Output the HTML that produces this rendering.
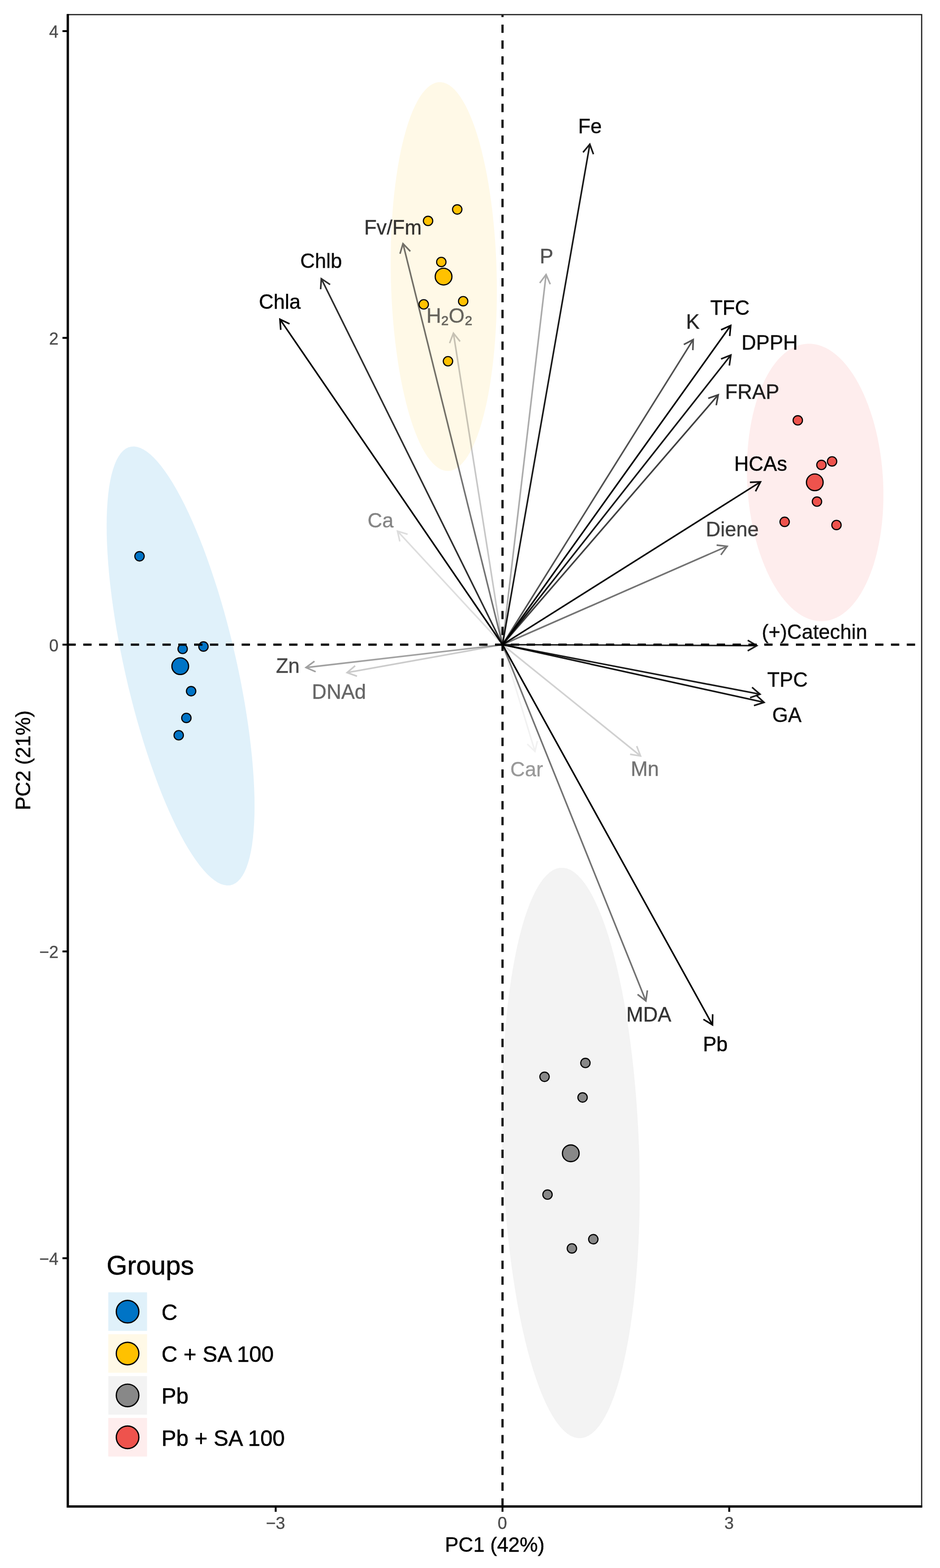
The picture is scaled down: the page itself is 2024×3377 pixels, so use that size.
<!DOCTYPE html>
<html lang="en"><head><meta charset="utf-8"><title>PCA biplot</title>
<style>html,body{margin:0;padding:0;background:#fff}svg{display:block}text{font-family:"Liberation Sans", Arial, Helvetica, sans-serif}</style></head><body>
<svg width="2024" height="3377" viewBox="0 0 2024 3377">
<rect width="2024" height="3377" fill="#fff"/>
<g id="ellipses">
<path d="M548.1,1735.9 L547.9,1754.6 L547.2,1772.3 L546.1,1789.2 L544.6,1805.0 L542.7,1819.9 L540.3,1833.7 L537.5,1846.4 L534.3,1857.9 L530.7,1868.4 L526.8,1877.6 L522.4,1885.6 L517.7,1892.3 L512.6,1897.8 L507.2,1902.1 L501.5,1905.0 L495.4,1906.7 L489.1,1907.1 L482.5,1906.1 L475.6,1903.9 L468.5,1900.4 L461.1,1895.6 L453.6,1889.6 L445.9,1882.3 L438.1,1873.8 L430.1,1864.0 L422.0,1853.1 L413.8,1841.1 L405.5,1827.9 L397.2,1813.7 L388.9,1798.4 L380.5,1782.1 L372.2,1764.8 L363.9,1746.7 L355.7,1727.7 L347.6,1707.9 L339.6,1687.3 L331.8,1666.1 L324.1,1644.2 L316.6,1621.7 L309.2,1598.8 L302.1,1575.3 L295.2,1551.5 L288.6,1527.4 L282.3,1503.0 L276.2,1478.4 L270.5,1453.7 L265.1,1429.0 L260.0,1404.3 L255.3,1379.6 L250.9,1355.1 L247.0,1330.8 L243.4,1306.8 L240.2,1283.2 L237.4,1259.9 L235.0,1237.2 L233.1,1214.9 L231.6,1193.3 L230.5,1172.4 L229.8,1152.1 L229.6,1132.7 L229.8,1114.0 L230.5,1096.3 L231.6,1079.4 L233.1,1063.6 L235.0,1048.7 L237.4,1034.9 L240.2,1022.2 L243.4,1010.7 L247.0,1000.2 L250.9,991.0 L255.3,983.0 L260.0,976.3 L265.1,970.8 L270.5,966.5 L276.2,963.6 L282.3,961.9 L288.6,961.5 L295.2,962.5 L302.1,964.7 L309.2,968.2 L316.6,973.0 L324.1,979.0 L331.8,986.3 L339.6,994.8 L347.6,1004.6 L355.7,1015.5 L363.9,1027.5 L372.2,1040.7 L380.5,1054.9 L388.8,1070.2 L397.2,1086.5 L405.5,1103.8 L413.8,1121.9 L422.0,1140.9 L430.1,1160.7 L438.1,1181.3 L445.9,1202.5 L453.6,1224.4 L461.1,1246.9 L468.5,1269.8 L475.6,1293.3 L482.5,1317.1 L489.1,1341.2 L495.4,1365.6 L501.5,1390.2 L507.2,1414.9 L512.6,1439.6 L517.7,1464.3 L522.4,1489.0 L526.8,1513.5 L530.7,1537.8 L534.3,1561.8 L537.5,1585.4 L540.3,1608.7 L542.7,1631.4 L544.6,1653.7 L546.1,1675.3 L547.2,1696.2 L547.9,1716.5Z" fill="#E0F1FA"/>
<path d="M1069.9,626.6 L1069.7,648.5 L1069.3,670.1 L1068.5,691.6 L1067.4,712.8 L1066.0,733.7 L1064.3,754.2 L1062.3,774.2 L1060.0,793.8 L1057.4,812.8 L1054.6,831.3 L1051.5,849.1 L1048.1,866.2 L1044.4,882.5 L1040.5,898.1 L1036.4,912.9 L1032.1,926.7 L1027.5,939.7 L1022.8,951.7 L1017.8,962.8 L1012.7,972.8 L1007.5,981.8 L1002.1,989.8 L996.5,996.6 L990.9,1002.4 L985.1,1007.0 L979.3,1010.6 L973.4,1013.0 L967.5,1014.2 L961.5,1014.3 L955.5,1013.3 L949.6,1011.1 L943.6,1007.7 L937.7,1003.3 L931.8,997.7 L926.0,991.0 L920.2,983.2 L914.6,974.4 L909.0,964.5 L903.6,953.7 L898.4,941.8 L893.3,929.0 L888.3,915.3 L883.6,900.7 L879.0,885.3 L874.7,869.0 L870.6,852.1 L866.7,834.4 L863.0,816.0 L859.6,797.1 L856.5,777.6 L853.7,757.6 L851.1,737.2 L848.8,716.4 L846.8,695.2 L845.1,673.8 L843.7,652.2 L842.6,630.4 L841.8,608.5 L841.4,586.6 L841.2,564.7 L841.4,542.8 L841.8,521.2 L842.6,499.7 L843.7,478.5 L845.1,457.6 L846.8,437.1 L848.8,417.1 L851.1,397.5 L853.7,378.5 L856.5,360.0 L859.6,342.2 L863.0,325.1 L866.7,308.8 L870.6,293.2 L874.7,278.4 L879.0,264.6 L883.6,251.6 L888.3,239.6 L893.3,228.5 L898.4,218.5 L903.6,209.5 L909.0,201.5 L914.6,194.7 L920.2,188.9 L926.0,184.3 L931.8,180.7 L937.7,178.3 L943.6,177.1 L949.6,177.0 L955.5,178.0 L961.5,180.2 L967.5,183.6 L973.4,188.0 L979.3,193.6 L985.1,200.3 L990.9,208.1 L996.5,216.9 L1002.1,226.8 L1007.5,237.6 L1012.7,249.5 L1017.8,262.3 L1022.8,276.0 L1027.5,290.6 L1032.1,306.0 L1036.4,322.3 L1040.5,339.2 L1044.4,356.9 L1048.1,375.3 L1051.5,394.2 L1054.6,413.7 L1057.4,433.7 L1060.0,454.1 L1062.3,474.9 L1064.3,496.1 L1066.0,517.5 L1067.4,539.1 L1068.5,560.9 L1069.3,582.8 L1069.7,604.7Z" fill="#FFF9E7"/>
<path d="M1377.5,2562.4 L1377.3,2594.1 L1376.7,2625.6 L1375.7,2656.7 L1374.3,2687.3 L1372.4,2717.3 L1370.2,2746.8 L1367.6,2775.4 L1364.7,2803.3 L1361.3,2830.3 L1357.6,2856.4 L1353.5,2881.4 L1349.1,2905.3 L1344.4,2928.1 L1339.4,2949.7 L1334.0,2970.0 L1328.4,2988.9 L1322.5,3006.5 L1316.3,3022.6 L1309.9,3037.2 L1303.2,3050.4 L1296.4,3061.9 L1289.4,3071.9 L1282.2,3080.3 L1274.9,3087.0 L1267.4,3092.1 L1259.9,3095.5 L1252.2,3097.3 L1244.5,3097.3 L1236.8,3095.7 L1229.0,3092.4 L1221.2,3087.4 L1213.5,3080.7 L1205.8,3072.5 L1198.1,3062.6 L1190.6,3051.1 L1183.1,3038.1 L1175.8,3023.5 L1168.6,3007.5 L1161.6,2990.0 L1154.8,2971.1 L1148.1,2950.9 L1141.7,2929.4 L1135.5,2906.7 L1129.6,2882.8 L1124.0,2857.9 L1118.6,2831.9 L1113.6,2804.9 L1108.9,2777.1 L1104.5,2748.5 L1100.4,2719.1 L1096.7,2689.1 L1093.3,2658.5 L1090.4,2627.4 L1087.8,2596.0 L1085.6,2564.2 L1083.7,2532.2 L1082.3,2500.1 L1081.3,2468.0 L1080.7,2435.8 L1080.5,2403.8 L1080.7,2372.1 L1081.3,2340.6 L1082.3,2309.5 L1083.7,2278.9 L1085.6,2248.9 L1087.8,2219.4 L1090.4,2190.8 L1093.3,2162.9 L1096.7,2135.9 L1100.4,2109.8 L1104.5,2084.8 L1108.9,2060.9 L1113.6,2038.1 L1118.6,2016.5 L1124.0,1996.2 L1129.6,1977.3 L1135.5,1959.7 L1141.7,1943.6 L1148.1,1929.0 L1154.8,1915.8 L1161.6,1904.3 L1168.6,1894.3 L1175.8,1885.9 L1183.1,1879.2 L1190.6,1874.1 L1198.1,1870.7 L1205.8,1868.9 L1213.5,1868.9 L1221.2,1870.5 L1229.0,1873.8 L1236.8,1878.8 L1244.5,1885.5 L1252.2,1893.7 L1259.9,1903.6 L1267.4,1915.1 L1274.9,1928.1 L1282.2,1942.7 L1289.4,1958.7 L1296.4,1976.2 L1303.2,1995.1 L1309.9,2015.3 L1316.3,2036.8 L1322.5,2059.5 L1328.4,2083.4 L1334.0,2108.3 L1339.4,2134.3 L1344.4,2161.3 L1349.1,2189.1 L1353.5,2217.7 L1357.6,2247.1 L1361.3,2277.1 L1364.7,2307.7 L1367.6,2338.8 L1370.2,2370.2 L1372.4,2402.0 L1374.3,2434.0 L1375.7,2466.1 L1376.7,2498.2 L1377.3,2530.4Z" fill="#F3F3F3"/>
<path d="M1902.2,1066.0 L1902.0,1081.5 L1901.4,1097.0 L1900.4,1112.2 L1899.0,1127.3 L1897.2,1142.1 L1895.0,1156.7 L1892.4,1170.9 L1889.5,1184.8 L1886.2,1198.2 L1882.5,1211.2 L1878.5,1223.8 L1874.1,1235.8 L1869.4,1247.3 L1864.4,1258.3 L1859.1,1268.6 L1853.6,1278.3 L1847.7,1287.4 L1841.6,1295.7 L1835.3,1303.4 L1828.7,1310.4 L1821.9,1316.6 L1815.0,1322.0 L1807.9,1326.7 L1800.6,1330.5 L1793.2,1333.6 L1785.8,1335.9 L1778.2,1337.3 L1770.6,1338.0 L1762.9,1337.8 L1755.2,1336.8 L1747.5,1335.0 L1739.8,1332.3 L1732.2,1328.9 L1724.6,1324.7 L1717.2,1319.7 L1709.8,1313.9 L1702.5,1307.4 L1695.4,1300.1 L1688.5,1292.1 L1681.7,1283.5 L1675.1,1274.1 L1668.8,1264.1 L1662.7,1253.5 L1656.8,1242.3 L1651.3,1230.6 L1646.0,1218.3 L1641.0,1205.5 L1636.3,1192.3 L1631.9,1178.7 L1627.9,1164.6 L1624.2,1150.3 L1620.9,1135.6 L1618.0,1120.7 L1615.4,1105.5 L1613.2,1090.2 L1611.4,1074.7 L1610.0,1059.1 L1609.0,1043.5 L1608.4,1027.8 L1608.2,1012.2 L1608.4,996.7 L1609.0,981.2 L1610.0,966.0 L1611.4,950.9 L1613.2,936.1 L1615.4,921.5 L1618.0,907.3 L1620.9,893.4 L1624.2,880.0 L1627.9,867.0 L1631.9,854.4 L1636.3,842.4 L1641.0,830.9 L1646.0,819.9 L1651.3,809.6 L1656.8,799.9 L1662.7,790.8 L1668.8,782.5 L1675.1,774.8 L1681.7,767.8 L1688.5,761.6 L1695.4,756.2 L1702.5,751.5 L1709.8,747.7 L1717.2,744.6 L1724.6,742.3 L1732.2,740.9 L1739.8,740.2 L1747.5,740.4 L1755.2,741.4 L1762.9,743.2 L1770.6,745.9 L1778.2,749.3 L1785.8,753.5 L1793.2,758.5 L1800.6,764.3 L1807.9,770.8 L1815.0,778.1 L1821.9,786.1 L1828.7,794.7 L1835.3,804.1 L1841.6,814.1 L1847.7,824.7 L1853.6,835.9 L1859.1,847.6 L1864.4,859.9 L1869.4,872.7 L1874.1,885.9 L1878.5,899.5 L1882.5,913.6 L1886.2,927.9 L1889.5,942.6 L1892.4,957.5 L1895.0,972.7 L1897.2,988.0 L1899.0,1003.5 L1900.4,1019.1 L1901.4,1034.7 L1902.0,1050.4Z" fill="#FEEDED"/>
</g>
<g id="points" stroke="#000" stroke-width="2.4">
<circle cx="300.4" cy="1198.1" r="10.1" fill="#0074C6"/>
<circle cx="393.3" cy="1397.5" r="10.1" fill="#0074C6"/>
<circle cx="438.1" cy="1392.4" r="10.1" fill="#0074C6"/>
<circle cx="411.5" cy="1488.6" r="10.1" fill="#0074C6"/>
<circle cx="401.3" cy="1546.2" r="10.1" fill="#0074C6"/>
<circle cx="384.8" cy="1583.5" r="10.1" fill="#0074C6"/>
<circle cx="984.5" cy="451.1" r="10.1" fill="#FFC100"/>
<circle cx="921.7" cy="475.8" r="10.1" fill="#FFC100"/>
<circle cx="950.2" cy="564.2" r="10.1" fill="#FFC100"/>
<circle cx="912.4" cy="655.5" r="10.1" fill="#FFC100"/>
<circle cx="997.3" cy="648.7" r="10.1" fill="#FFC100"/>
<circle cx="964.6" cy="778.0" r="10.1" fill="#FFC100"/>
<circle cx="1260.5" cy="2289.3" r="10.1" fill="#888888"/>
<circle cx="1172.5" cy="2319.1" r="10.1" fill="#888888"/>
<circle cx="1254.4" cy="2363.6" r="10.1" fill="#888888"/>
<circle cx="1178.9" cy="2572.8" r="10.1" fill="#888888"/>
<circle cx="1277.5" cy="2668.9" r="10.1" fill="#888888"/>
<circle cx="1231.4" cy="2688.7" r="10.1" fill="#888888"/>
<circle cx="1717.8" cy="905.3" r="10.1" fill="#EE534D"/>
<circle cx="1768.7" cy="1001.3" r="10.1" fill="#EE534D"/>
<circle cx="1791.6" cy="993.7" r="10.1" fill="#EE534D"/>
<circle cx="1759.1" cy="1080.3" r="10.1" fill="#EE534D"/>
<circle cx="1689.5" cy="1123.9" r="10.1" fill="#EE534D"/>
<circle cx="1801.1" cy="1130.7" r="10.1" fill="#EE534D"/>
<circle cx="388.1" cy="1434.8" r="18.0" fill="#0074C6" stroke-width="2.6"/>
<circle cx="955.1" cy="595.7" r="18.0" fill="#FFC100" stroke-width="2.6"/>
<circle cx="1229.0" cy="2483.9" r="18.0" fill="#888888" stroke-width="2.6"/>
<circle cx="1754.4" cy="1038.8" r="18.0" fill="#EE534D" stroke-width="2.6"/>
</g>
<g id="reflines" stroke="#000" stroke-width="4.7" stroke-dasharray="17.93 16.2" fill="none">
<line x1="145.2" y1="1388.4" x2="1984.5" y2="1388.4" stroke-dasharray="17.9 16.2"/>
<line x1="1082.0" y1="3244.9" x2="1082.0" y2="31.5"/>
</g>
<g id="arrows" fill="none" stroke="#000" stroke-width="3.4" stroke-linejoin="miter" stroke-miterlimit="10">
<g opacity="1.00"><line x1="1082.0" y1="1388.4" x2="602.8" y2="687.6"/><polyline points="623.4,697.5 602.8,687.6 604.5,710.3"/></g>
<g opacity="0.82"><line x1="1082.0" y1="1388.4" x2="691.8" y2="600.2"/><polyline points="710.8,612.8 691.8,600.2 690.4,622.9"/></g>
<g opacity="0.55"><line x1="1082.0" y1="1388.4" x2="867.7" y2="524.7"/><polyline points="883.5,541.2 867.7,524.7 861.3,546.6"/></g>
<g opacity="0.22"><line x1="1082.0" y1="1388.4" x2="976.3" y2="717.7"/><polyline points="990.6,735.4 976.3,717.7 968.1,739.0"/></g>
<g opacity="0.33"><line x1="1082.0" y1="1388.4" x2="1175.8" y2="591.3"/><polyline points="1184.8,612.2 1175.8,591.3 1162.2,609.6"/></g>
<g opacity="0.90"><line x1="1082.0" y1="1388.4" x2="1270.0" y2="310.7"/><polyline points="1277.8,332.1 1270.0,310.7 1255.4,328.2"/></g>
<g opacity="0.68"><line x1="1082.0" y1="1388.4" x2="1492.6" y2="731.4"/><polyline points="1491.8,754.1 1492.6,731.4 1472.4,742.1"/></g>
<g opacity="1.00"><line x1="1082.0" y1="1388.4" x2="1573.4" y2="701.0"/><polyline points="1571.2,723.7 1573.4,701.0 1552.6,710.4"/></g>
<g opacity="0.92"><line x1="1082.0" y1="1388.4" x2="1573.7" y2="764.7"/><polyline points="1570.4,787.3 1573.7,764.7 1552.5,773.2"/></g>
<g opacity="0.75"><line x1="1082.0" y1="1388.4" x2="1546.5" y2="850.4"/><polyline points="1542.2,872.8 1546.5,850.4 1525.0,857.9"/></g>
<g opacity="0.95"><line x1="1082.0" y1="1388.4" x2="1637.5" y2="1037.9"/><polyline points="1626.8,1058.1 1637.5,1037.9 1614.7,1038.8"/></g>
<g opacity="0.55"><line x1="1082.0" y1="1388.4" x2="1565.7" y2="1176.5"/><polyline points="1552.2,1194.9 1565.7,1176.5 1543.0,1174.0"/></g>
<g opacity="0.88"><line x1="1082.0" y1="1388.4" x2="1629.7" y2="1390.5"/><polyline points="1609.9,1401.8 1629.7,1390.5 1610.0,1379.0"/></g>
<g opacity="0.90"><line x1="1082.0" y1="1388.4" x2="1636.5" y2="1495.2"/><polyline points="1615.0,1502.6 1636.5,1495.2 1619.3,1480.2"/></g>
<g opacity="0.92"><line x1="1082.0" y1="1388.4" x2="1645.2" y2="1512.7"/><polyline points="1623.4,1519.6 1645.2,1512.7 1628.3,1497.3"/></g>
<g opacity="0.18"><line x1="1082.0" y1="1388.4" x2="1379.2" y2="1628.1"/><polyline points="1356.7,1624.5 1379.2,1628.1 1371.0,1606.8"/></g>
<g opacity="0.05"><line x1="1082.0" y1="1388.4" x2="1151.9" y2="1618.2"/><polyline points="1135.3,1602.6 1151.9,1618.2 1157.1,1596.0"/></g>
<g opacity="0.55"><line x1="1082.0" y1="1388.4" x2="1390.7" y2="2155.7"/><polyline points="1372.8,2141.6 1390.7,2155.7 1393.9,2133.1"/></g>
<g opacity="1.00"><line x1="1082.0" y1="1388.4" x2="1534.1" y2="2207.2"/><polyline points="1514.6,2195.4 1534.1,2207.2 1534.5,2184.4"/></g>
<g opacity="0.37"><line x1="1082.0" y1="1388.4" x2="658.8" y2="1437.7"/><polyline points="677.1,1424.1 658.8,1437.7 679.7,1446.8"/></g>
<g opacity="0.20"><line x1="1082.0" y1="1388.4" x2="747.3" y2="1448.6"/><polyline points="764.7,1433.9 747.3,1448.6 768.7,1456.3"/></g>
<g opacity="0.13"><line x1="1082.0" y1="1388.4" x2="855.9" y2="1143.9"/><polyline points="877.6,1150.6 855.9,1143.9 860.9,1166.1"/></g>
</g>
<g id="labels" font-size="43.7" fill="#000" stroke="#000" stroke-width="0.5">
<text x="557.4" y="664.8" opacity="1.00">Chla</text>
<text x="646.4" y="577.1" opacity="0.95">Chlb</text>
<text x="784.2" y="505.1" opacity="0.80">Fv/Fm</text>
<text x="918.3" y="694.9" opacity="0.60">H<tspan font-size="28.5" dx="0.2" dy="5.4" stroke-width="0.9">2</tspan><tspan dx="0.4" dy="-5.4">O</tspan><tspan font-size="28.5" dx="0.6" dy="5.4" stroke-width="0.9">2</tspan></text>
<text x="1162.3" y="566.7" opacity="0.68">P</text>
<text x="1244.8" y="286.9" opacity="0.95">Fe</text>
<text x="1477.2" y="708.4" opacity="0.85">K</text>
<text x="1529.2" y="678.0" opacity="1.00">TFC</text>
<text x="1596.5" y="752.8" opacity="0.95">DPPH</text>
<text x="1561.3" y="858.8" opacity="0.88">FRAP</text>
<text x="1580.7" y="1014.4" opacity="1.00">HCAs</text>
<text x="1519.7" y="1155.4" opacity="0.75">Diene</text>
<text x="1640.2" y="1375.7" opacity="0.95">(+)Catechin</text>
<text x="1651.9" y="1478.9" opacity="0.95">TPC</text>
<text x="1662.8" y="1554.7" opacity="0.95">GA</text>
<text x="1358.2" y="1670.9" opacity="0.55">Mn</text>
<text x="1098.8" y="1671.9" opacity="0.40">Car</text>
<text x="1348.4" y="2200.3" opacity="0.80">MDA</text>
<text x="1513.4" y="2263.8" opacity="1.00">Pb</text>
<text x="594.2" y="1448.5" opacity="0.72">Zn</text>
<text x="671.6" y="1505.0" opacity="0.60">DNAd</text>
<text x="791.5" y="1135.7" opacity="0.48">Ca</text>
</g>
<rect x="146.0" y="31.5" width="1838.5" height="3213.0" fill="none" stroke="#222" stroke-width="2.6"/>
<g stroke="#000" stroke-width="5" fill="none" stroke-linecap="butt">
<path d="M146.0,30.2 V3244.5 H1985.8"/>
</g>
<g stroke="#000" stroke-width="4.1">
<line x1="593.6" y1="3244.5" x2="593.6" y2="3256.0"/>
<line x1="1082.0" y1="3244.5" x2="1082.0" y2="3256.0"/>
<line x1="1570.2" y1="3244.5" x2="1570.2" y2="3256.0"/>
<line x1="134.5" y1="67.0" x2="146.0" y2="67.0"/>
<line x1="134.5" y1="727.7" x2="146.0" y2="727.7"/>
<line x1="134.5" y1="1388.4" x2="146.0" y2="1388.4"/>
<line x1="134.5" y1="2049.1" x2="146.0" y2="2049.1"/>
<line x1="134.5" y1="2709.8" x2="146.0" y2="2709.8"/>
</g>
<g font-size="36.3" fill="#4d4d4d" stroke="#4d4d4d" stroke-width="0.4">
<text x="593.3" y="3292.7" text-anchor="middle">−3</text>
<text x="1081.7" y="3292.7" text-anchor="middle">0</text>
<text x="1569.9" y="3292.7" text-anchor="middle">3</text>
<text x="126" y="81.1" text-anchor="end">4</text>
<text x="126" y="741.8" text-anchor="end">2</text>
<text x="126" y="1402.5" text-anchor="end">0</text>
<text x="126" y="2063.2" text-anchor="end">−2</text>
<text x="126" y="2723.9" text-anchor="end">−4</text>
</g>
<text x="1065.3" y="3341.6" font-size="43.9" text-anchor="middle" fill="#000" stroke="#000" stroke-width="0.5">PC1 (42%)</text>
<text transform="translate(64.7,1637.5) rotate(-90)" font-size="43.9" text-anchor="middle" fill="#000" stroke="#000" stroke-width="0.5">PC2 (21%)</text>
<g id="legend" stroke-width="0.6">
<text x="229.4" y="2745.1" font-size="57.4" fill="#000" stroke="#000">Groups</text>
<rect x="233.2" y="2783.3" width="83.4" height="83.0" fill="#E0F1FA"/>
<circle cx="274.7" cy="2824.9" r="24.3" fill="#0074C6" stroke="#000" stroke-width="2.7"/>
<text x="347.8" y="2842.9" font-size="47.5" fill="#000" stroke="#000">C</text>
<rect x="233.2" y="2873.5" width="83.4" height="83.0" fill="#FFF9E7"/>
<circle cx="274.7" cy="2915.1" r="24.3" fill="#FFC100" stroke="#000" stroke-width="2.7"/>
<text x="347.8" y="2933.1" font-size="47.5" fill="#000" stroke="#000">C + SA 100</text>
<rect x="233.2" y="2963.7" width="83.4" height="83.0" fill="#F3F3F3"/>
<circle cx="274.7" cy="3005.3" r="24.3" fill="#888888" stroke="#000" stroke-width="2.7"/>
<text x="347.8" y="3023.3" font-size="47.5" fill="#000" stroke="#000">Pb</text>
<rect x="233.2" y="3053.9" width="83.4" height="83.0" fill="#FEEDED"/>
<circle cx="274.7" cy="3095.5" r="24.3" fill="#EE534D" stroke="#000" stroke-width="2.7"/>
<text x="347.8" y="3113.5" font-size="47.5" fill="#000" stroke="#000">Pb + SA 100</text>
</g>
</svg></body></html>
